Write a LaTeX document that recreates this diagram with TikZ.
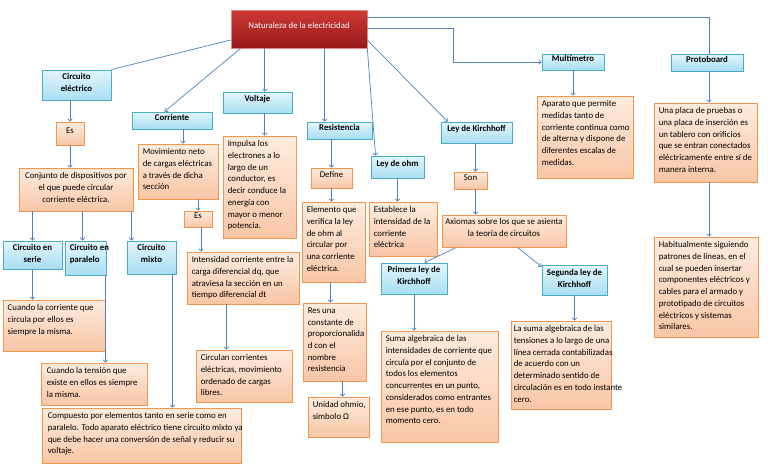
\documentclass[tikz,border=0pt]{standalone}
\usepackage{fontspec}
\setmainfont{Carlito}
\usetikzlibrary{arrows.meta,fit,shadows}
\definecolor{lineblue}{RGB}{79,129,189}
\definecolor{bborder}{RGB}{75,172,198}
\definecolor{btop}{RGB}{226,246,252}
\definecolor{bbot}{RGB}{168,222,242}
\definecolor{oborder}{RGB}{240,150,80}
\definecolor{otop}{RGB}{253,236,222}
\definecolor{obot}{RGB}{249,198,166}
\definecolor{rtop}{RGB}{206,58,52}
\definecolor{rbot}{RGB}{150,24,24}
\begin{document}
\begin{tikzpicture}[x=1pt,y=-1pt,
  shad/.style={drop shadow={shadow xshift=1.2pt,shadow yshift=-1.2pt,opacity=0.3}},
  bbox/.style={draw=bborder,line width=0.9pt,top color=btop,bottom color=bbot,shad,inner sep=0pt,align=center,font=\bfseries\fontsize{8.8}{11.8}\selectfont},
  btxt/.style={anchor=north,inner sep=0pt,align=center,font=\bfseries\fontsize{8.8}{11.8}\selectfont},
  obox/.style={draw=oborder,line width=0.9pt,top color=otop,bottom color=obot,shad,inner sep=0pt,align=center,font=\fontsize{8.8}{11.7}\selectfont},
  ctxt/.style={anchor=north,inner sep=0pt,align=center,font=\fontsize{8.8}{11.7}\selectfont},
  rbox/.style={draw=rtop!60!white,line width=0.6pt,top color=rtop,bottom color=rbot,shad,inner sep=0pt,text=white,font=\fontsize{8.8}{11.7}\selectfont},
  txt/.style={anchor=north west,inner sep=0pt,align=left,font=\fontsize{8.8}{11.7}\selectfont},
  conn/.style={draw=lineblue,line width=0.7pt,-{To[length=3pt,width=5pt]}},
  plain/.style={draw=lineblue,line width=0.7pt}]
\useasboundingbox[fill=white] (0,0) rectangle (768,466);

% title
\node[rbox, fit={(231,10)(367,48)}] (title) {Naturaleza de la electricidad};

% blue nodes
\node[bbox, fit={(42,70)(111,100)}] (ce) {};
\node[btxt] (ce-t) at ([yshift=-4pt]ce.north) {Circuito\\eléctrico};
\node[bbox, fit={(132,112)(212,129)}] (corr) {Corriente};
\node[bbox, fit={(223,92)(292,113)}] (volt) {Voltaje};
\node[bbox, fit={(307,122)(372,139)}] (res) {Resistencia};
\node[bbox, fit={(371,156)(424,178)}] (ohm) {Ley de ohm};
\node[bbox, fit={(441,122)(512,143)}] (kirch) {Ley de Kirchhoff};
\node[bbox, fit={(542,54)(604,70)}] (multi) {Multímetro};
\node[bbox, fit={(671,54)(743,71)}] (proto) {Protoboard};
\node[bbox, fit={(3,241)(62,269)}] (serie) {};
\node[btxt] (serie-t) at ([yshift=-4pt]serie.north) {Circuito en\\serie};
\node[bbox, fit={(65,241)(106,275)}] (paral) {};
\node[btxt, anchor=north west, align=left] (paral-t) at ([xshift=5pt,yshift=-4pt]paral.north west) {Circuito en\\paralelo};
\node[bbox, fit={(127,241)(176,274)}] (mixto) {};
\node[btxt] (mixto-t) at ([yshift=-4pt]mixto.north) {Circuito\\mixto};
\node[bbox, fit={(381,263)(447,294)}] (prim) {};
\node[btxt] (prim-t) at ([yshift=-4pt]prim.north) {Primera ley de\\Kirchhoff};
\node[bbox, fit={(542,265)(607,295)}] (seg) {};
\node[btxt] (seg-t) at ([yshift=-5pt]seg.north) {Segunda ley de\\Kirchhoff};

% small orange centred nodes
\node[obox, fit={(56,122)(84,145)}] (es1) {Es};
\node[obox, fit={(184,211)(212,227)}] (es2) {Es};
\node[obox, fit={(311,168)(352,188)}] (def) {Define};
\node[obox, fit={(454,172)(487,189)}] (son) {Son};
\node[obox, fit={(19,168)(133,211)}] (conj) {};
\node[ctxt] (conj-t) at ([yshift=-5pt]conj.north) {Conjunto de dispositivos por\\el que puede circular\\corriente eléctrica.};
\node[obox, fit={(442,215)(566,247)}] (axi) {};
\node[ctxt] (axi-t) at ([yshift=-4pt]axi.north) {Axiomas sobre los que se asienta\\la teoría de circuitos};

% orange text boxes
\node[obox, fit={(138,144)(218,199)}] (mov) {};
\node[txt] (mov-t) at ([xshift=5pt,yshift=-5pt]mov.north west) {Movimiento neto\\de cargas eléctricas\\a través de dicha\\sección};
\node[obox, fit={(187,252)(299,304)}] (inten) {};
\node[txt] (inten-t) at ([xshift=5pt,yshift=-5pt]inten.north west) {Intensidad corriente entre la\\carga diferencial dq, que\\atraviesa la sección en un\\tiempo diferencial dt};
\node[obox, fit={(196,350)(292,402)}] (circ) {};
\node[txt] (circ-t) at ([xshift=5pt,yshift=-5pt]circ.north west) {Circulan corrientes\\eléctricas, movimiento\\ordenado de cargas\\libres.};
\node[obox, fit={(223,136)(296,238)}] (imp) {};
\node[txt] (imp-t) at ([xshift=5pt,yshift=-5pt]imp.north west) {Impulsa los\\electrones a lo\\largo de un\\conductor, es\\decir conduce la\\energía con\\mayor o menor\\potencia.};
\node[obox, fit={(302,202)(365,282)}] (elem) {};
\node[txt] (elem-t) at ([xshift=5pt,yshift=-5pt]elem.north west) {Elemento que\\verifica la ley\\de ohm al\\circular por\\una corriente\\eléctrica.};
\node[obox, fit={(303,303)(366,381)}] (resuna) {};
\node[txt] (resuna-t) at ([xshift=5pt,yshift=-5pt]resuna.north west) {Res una\\constante de\\proporcionalida\\d con el\\nombre\\resistencia};
\node[obox, fit={(308,397)(369,437)}] (unid) {};
\node[txt] (unid-t) at ([xshift=5pt,yshift=-5pt]unid.north west) {Unidad ohmio,\\símbolo Ω};
\node[obox, fit={(369,202)(437,256)}] (estab) {};
\node[txt] (estab-t) at ([xshift=5pt,yshift=-5pt]estab.north west) {Establece la\\intensidad de la\\corriente\\eléctrica};
\node[obox, fit={(381,331)(498,442)}] (suma) {};
\node[txt] (suma-t) at ([xshift=5pt,yshift=-5pt]suma.north west) {Suma algebraica de las\\intensidades de corriente que\\circula por el conjunto de\\todos los elementos\\concurrentes en un punto,\\considerados como entrantes\\en ese punto, es en todo\\momento cero.};
\node[obox, fit={(511,321)(611,409)}] (lasuma) {};
\node[txt] (lasuma-t) at ([xshift=3pt,yshift=-5pt]lasuma.north west) {La suma algebraica de las\\tensiones a lo largo de una\\línea cerrada contabilizadas\\de acuerdo con un\\determinado sentido de\\circulación es en todo instante\\cero.};
\node[obox, fit={(537,96)(633,178)}] (apar) {};
\node[txt] (apar-t) at ([xshift=5pt,yshift=-5pt]apar.north west) {Aparato que permite\\medidas tanto de\\corriente continua como\\de alterna y dispone de\\diferentes escalas de\\medidas.};
\node[obox, fit={(654,103)(757,182)}] (placa) {};
\node[txt] (placa-t) at ([xshift=5pt,yshift=-5pt]placa.north west) {Una placa de pruebas o\\una placa de inserción es\\un tablero con orificios\\que se entran conectados\\eléctricamente entre sí de\\manera interna.};
\node[obox, fit={(654,237)(758,337)}] (habit) {};
\node[txt] (habit-t) at ([xshift=5pt,yshift=-5pt]habit.north west) {Habitualmente siguiendo\\patrones de líneas, en el\\cual se pueden insertar\\componentes eléctricos y\\cables para el armado y\\prototipado de circuitos\\eléctricos y sistemas\\similares.};
\node[obox, fit={(3,300)(105,351)}] (cser) {};
\node[txt] (cser-t) at ([xshift=5pt,yshift=-5pt]cser.north west) {Cuando la corriente que\\circula por ellos es\\siempre la misma.};
\node[obox, fit={(41,363)(147,405)}] (cpar) {};
\node[txt] (cpar-t) at ([xshift=6pt,yshift=-5pt]cpar.north west) {Cuando la tensión que\\existe en ellos es siempre\\la misma.};
\node[obox, fit={(42,408)(241,463)}] (comp) {};
\node[txt] (comp-t) at ([xshift=6pt,yshift=-5pt]comp.north west) {Compuesto por elementos tanto en serie como en\\paralelo. Todo aparato eléctrico tiene circuito mixto ya\\que debe hacer una conversión de señal y reducir su\\voltaje.};

% connectors from title
\draw[plain] ([yshift=-11pt]title.west) -- (ce.north east);
\draw[conn] ([xshift=10pt]title.south west) -- ([xshift=33pt]corr.north west);
\draw[conn] ([xshift=34pt]title.south west) -- ([xshift=34pt]title.south west |- volt.north);
\draw[conn] ([xshift=94pt]title.south west) -- ([xshift=94pt]title.south west |- res.north);
\draw[conn] (title.south east) -- ([xshift=5pt]ohm.north west);
\draw[conn] ([yshift=-11pt]title.east) -- ([xshift=7pt]kirch.north west);
\draw[conn] ([yshift=1pt]title.east) -- ++(86,0) |- (multi.west);
\draw[plain] ([yshift=12pt]title.east) -| ([xshift=2pt]proto.north);

% left branch
\draw[conn] (es1.north |- ce.south) -- (es1.north);
\draw[conn] (es1.south) -- (es1.south |- conj.north);
\draw[conn] (serie.north |- conj.south) -- (serie.north);
\draw[conn] ([xshift=-3pt]paral.north |- conj.south) -- ([xshift=-3pt]paral.north);
\draw[conn] ([xshift=-2pt]conj.south east) -- ([xshift=-2pt]conj.south east |- mixto.north);
\draw[conn] (serie.south) -- (serie.south |- cser.north);
\draw[conn] ([xshift=-1pt]paral.south east) -- ([xshift=-1pt]paral.south east |- cpar.north);
\draw[conn] ([xshift=-4pt]mixto.south east) -- ([xshift=-4pt]mixto.south east |- comp.north);

% corriente branch
\draw[conn] ([xshift=5pt]mov.north |- corr.south) -- ([xshift=5pt]mov.north);
\draw[conn] (es2.north |- mov.south) -- (es2.north);
\draw[conn] ([xshift=3pt]es2.south) -- ([xshift=3pt]es2.south |- inten.north);
\draw[conn] ([xshift=31pt]circ.north west |- inten.south) -- ([xshift=31pt]circ.north west);

% voltaje
\draw[conn] ([xshift=5pt]imp.north |- volt.south) -- ([xshift=5pt]imp.north);

% resistencia
\draw[conn] (def.north |- res.south) -- (def.north);
\draw[conn] (def.south) -- (def.south |- elem.north);
\draw[conn] ([xshift=-3pt]elem.south) -- ([xshift=-3pt]elem.south |- resuna.north);
\draw[conn] ([xshift=4pt]unid.north |- resuna.south) -- ([xshift=4pt]unid.north);

% ohm
\draw[conn] (ohm.south) -- (ohm.south |- estab.north);

% kirchhoff
\draw[conn] ([xshift=-1pt]kirch.south) -- ([xshift=-1pt]kirch.south |- son.north);
\draw[conn] ([xshift=-1pt]kirch.south |- son.south) -- ([xshift=-1pt]kirch.south |- axi.north);
\draw[conn] ([xshift=15pt]axi.south west) -- ([xshift=44pt]prim.north west);
\draw[conn] ([xshift=-49pt]axi.south east) -- ([yshift=-2pt]seg.north west);
\draw[conn] (prim.south) -- (prim.south |- suma.north);
\draw[conn] (seg.south) -- (seg.south |- lasuma.north);

% right
\draw[conn] (multi.south) -- (multi.south |- apar.north);
\draw[conn] ([xshift=2pt]proto.south) -- ([xshift=2pt]proto.south |- placa.north);
\draw[conn] ([xshift=2pt]proto.south |- placa.south) -- ([xshift=2pt]proto.south |- habit.north);
\end{tikzpicture}
\end{document}
